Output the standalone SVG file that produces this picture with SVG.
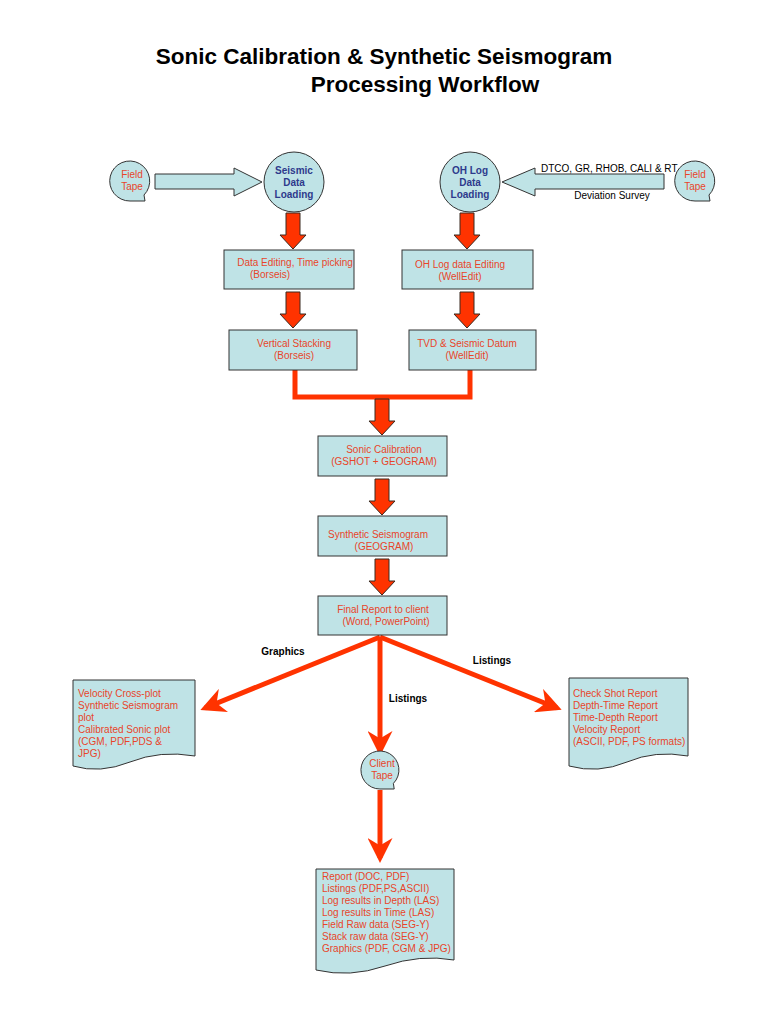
<svg xmlns="http://www.w3.org/2000/svg" width="768" height="1024" viewBox="0 0 768 1024">
<style>
.t{font-family:"Liberation Sans",Arial,sans-serif}
.n{fill:#bfe3e6;stroke:#333;stroke-width:1}
.r{font-family:"Liberation Sans",Arial,sans-serif;font-size:10px;fill:#e8452a}
.b{font-family:"Liberation Sans",Arial,sans-serif;font-size:10px;font-weight:bold;fill:#2d3a8c}
.k{font-family:"Liberation Sans",Arial,sans-serif;font-size:10px;font-weight:bold;fill:#000}
.da{fill:#ff3300;stroke:#3a2a20;stroke-width:1}
.ln{stroke:#ff3300;stroke-width:5;fill:none}
</style>
<defs>
<marker id="ah" viewBox="0 0 10 10" refX="8" refY="5" markerWidth="5" markerHeight="5" orient="auto" markerUnits="strokeWidth"><path d="M0,0 L10,5 L0,10 L3,5 Z" fill="#ff3300"/></marker>
<path id="down" d="M-7,0 H7 V22 H13 L0,36 L-13,22 H-7 Z"/>
<path id="tape" d="M0,20 A20,20 0 1 1 14,14 L15,20 Z"/>
<path id="tapes" d="M0,19 A19,19 0 1 1 13.4,13.4 L14.2,19 Z"/>
</defs>
<rect width="768" height="1024" fill="#fff"/>
<g id="title" class="t" font-size="22.5" font-weight="bold" text-anchor="middle" fill="#000">
<text x="384" y="64">Sonic Calibration &amp; Synthetic Seismogram</text>
<text x="425" y="92">Processing Workflow</text>
</g>
<g id="connectors">
<path d="M155,174 H234 V168 L262,182 L234,196 V189 H155 Z" class="n"/>
<path d="M664,174 H535 V168 L502,182 L535,196 V189 H664 Z" class="n"/>
<use href="#down" x="293" y="213" class="da"/>
<use href="#down" x="467" y="213" class="da"/>
<use href="#down" x="293" y="292" class="da"/>
<use href="#down" x="467" y="292" class="da"/>
<path d="M295,370 V397 H470 V370" class="ln" stroke-width="4"/>
<use href="#down" x="382" y="399" class="da"/>
<use href="#down" x="382" y="479" class="da"/>
<use href="#down" x="382" y="559" class="da"/>
<path d="M380,637 L205,708" class="ln" marker-end="url(#ah)"/>
<path d="M380,637 L380,751" class="ln" marker-end="url(#ah)"/>
<path d="M380,637 L557,708" class="ln" marker-end="url(#ah)"/>
<path d="M380,790 L380,858" class="ln" marker-end="url(#ah)"/>
<text x="283" y="655" class="k" text-anchor="middle">Graphics</text>
<text x="492" y="664" class="k" text-anchor="middle">Listings</text>
<text x="408" y="702" class="k" text-anchor="middle">Listings</text>
<text x="541" y="172" class="t" font-size="10">DTCO, GR, RHOB, CALI &amp; RT</text>
<text x="612" y="199" class="t" font-size="10" text-anchor="middle">Deviation Survey</text>
</g>
<g id="fieldtape1"><use href="#tape" x="130" y="181" class="n"/><text x="132" y="178" class="r" text-anchor="middle">Field</text><text x="132" y="190" class="r" text-anchor="middle">Tape</text></g>
<g id="fieldtape2"><use href="#tape" x="695" y="181" class="n"/><text x="695" y="178" class="r" text-anchor="middle">Field</text><text x="695" y="190" class="r" text-anchor="middle">Tape</text></g>
<g id="seismic"><circle cx="294" cy="182" r="30" class="n"/><text x="294" y="174" class="b" text-anchor="middle">Seismic</text><text x="294" y="186" class="b" text-anchor="middle">Data</text><text x="294" y="198" class="b" text-anchor="middle">Loading</text></g>
<g id="ohlog"><circle cx="470" cy="182" r="30" class="n"/><text x="470" y="174" class="b" text-anchor="middle">OH Log</text><text x="470" y="186" class="b" text-anchor="middle">Data</text><text x="470" y="198" class="b" text-anchor="middle">Loading</text></g>
<g id="edit1"><rect x="224" y="250" width="130" height="39" class="n"/><text x="295" y="266" class="r" text-anchor="middle">Data Editing, Time picking</text><text x="270" y="278" class="r" text-anchor="middle">(Borseis)</text></g>
<g id="edit2"><rect x="402" y="250" width="131" height="39" class="n"/><text x="460" y="268" class="r" text-anchor="middle">OH Log data Editing</text><text x="460" y="280" class="r" text-anchor="middle">(WellEdit)</text></g>
<g id="stack"><rect x="229" y="330" width="128" height="40" class="n"/><text x="294" y="347" class="r" text-anchor="middle">Vertical Stacking</text><text x="294" y="359" class="r" text-anchor="middle">(Borseis)</text></g>
<g id="tvd"><rect x="409" y="330" width="127" height="40" class="n"/><text x="467" y="347" class="r" text-anchor="middle">TVD &amp; Seismic Datum</text><text x="467" y="359" class="r" text-anchor="middle">(WellEdit)</text></g>
<g id="sonic"><rect x="318" y="436" width="129" height="40" class="n"/><text x="384" y="453" class="r" text-anchor="middle">Sonic Calibration</text><text x="384" y="465" class="r" text-anchor="middle">(GSHOT + GEOGRAM)</text></g>
<g id="synth"><rect x="318" y="516" width="129" height="40" class="n"/><text x="378" y="538" class="r" text-anchor="middle">Synthetic Seismogram</text><text x="384" y="550" class="r" text-anchor="middle">(GEOGRAM)</text></g>
<g id="final"><rect x="318" y="596" width="129" height="39" class="n"/><text x="383" y="613" class="r" text-anchor="middle">Final Report to client</text><text x="386" y="625" class="r" text-anchor="middle">(Word, PowerPoint)</text></g>
<g id="graphicsdoc"><path d="M73,680 H195 V756 Q160,750 130,762 Q100,774 73,766 Z" class="n"/>
<text class="r"><tspan x="78" y="697">Velocity Cross-plot</tspan><tspan x="78" y="709">Synthetic Seismogram</tspan><tspan x="78" y="721">plot</tspan><tspan x="78" y="733">Calibrated Sonic plot</tspan><tspan x="78" y="745">(CGM, PDF,PDS &amp;</tspan><tspan x="78" y="757">JPG)</tspan></text></g>
<g id="listdoc"><path d="M569,678 H688 V756 Q655,750 627,762 Q598,774 569,766 Z" class="n"/>
<text class="r"><tspan x="573" y="697">Check Shot Report</tspan><tspan x="573" y="709">Depth-Time Report</tspan><tspan x="573" y="721">Time-Depth Report</tspan><tspan x="573" y="733">Velocity Report</tspan><tspan x="573" y="745">(ASCII, PDF, PS formats)</tspan></text></g>
<g id="clienttape"><use href="#tapes" x="380" y="770" class="n"/><text x="382" y="767" class="r" font-size="9.5" text-anchor="middle">Client</text><text x="382" y="779" class="r" font-size="9.5" text-anchor="middle">Tape</text></g>
<g id="deliverables"><path d="M316,869 H454 V960 Q420,954 385,966 Q350,978 316,970 Z" class="n"/>
<text class="r"><tspan x="322" y="880">Report (DOC, PDF)</tspan><tspan x="322" y="892">Listings (PDF,PS,ASCII)</tspan><tspan x="322" y="904">Log results in Depth (LAS)</tspan><tspan x="322" y="916">Log results in Time (LAS)</tspan><tspan x="322" y="928">Field Raw data (SEG-Y)</tspan><tspan x="322" y="940">Stack raw data (SEG-Y)</tspan><tspan x="322" y="952">Graphics (PDF, CGM &amp; JPG)</tspan></text></g>
</svg>
